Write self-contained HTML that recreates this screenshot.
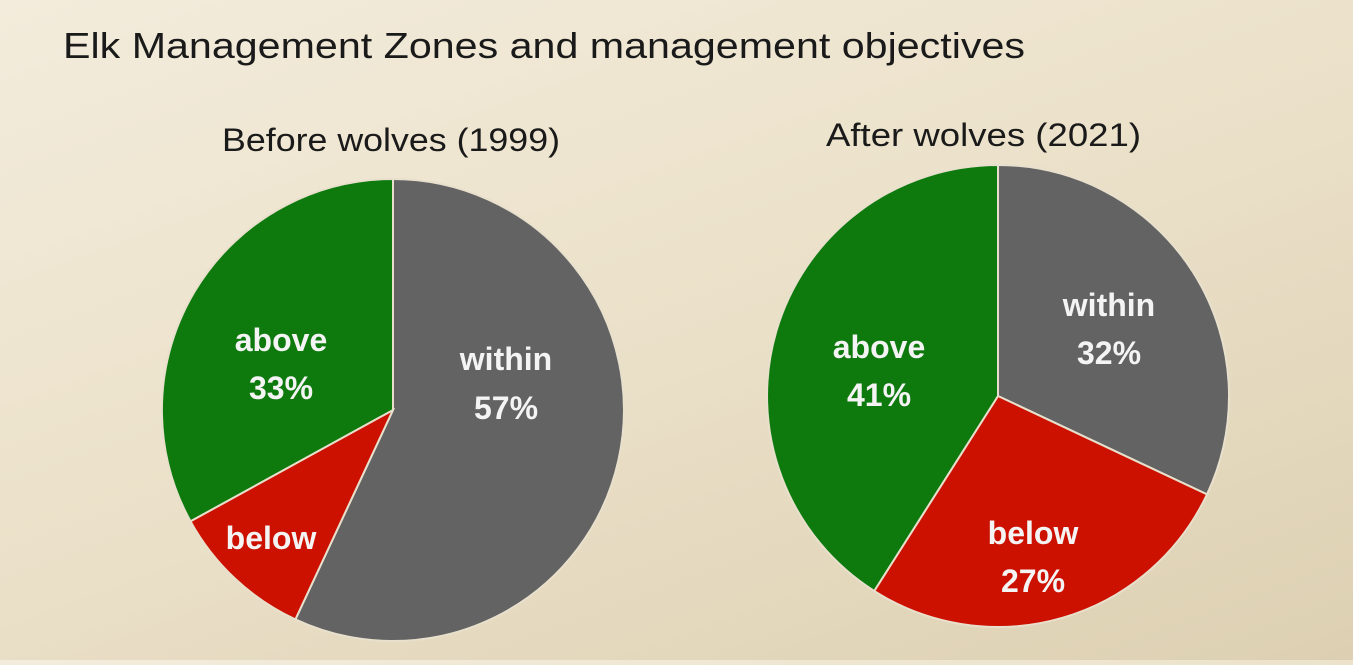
<!DOCTYPE html>
<html><head><meta charset="utf-8"><style>
html,body{margin:0;padding:0}
body{width:1353px;height:660px;overflow:hidden;background:linear-gradient(160deg,#f3ecdc 0%,#ece2cb 45%,#ddd0b2 100%);font-family:"Liberation Sans",sans-serif}
</style></head><body>
<svg width="1353" height="660" viewBox="0 0 1353 660" xmlns="http://www.w3.org/2000/svg" font-family="Liberation Sans, DejaVu Sans, sans-serif">
<text x="63" y="58" font-size="36" fill="#1a1a1a" textLength="962" lengthAdjust="spacingAndGlyphs">Elk Management Zones and management objectives</text>
<text x="222" y="151" font-size="32" fill="#1a1a1a" textLength="338" lengthAdjust="spacingAndGlyphs">Before wolves (1999)</text>
<text x="826" y="146" font-size="32" fill="#1a1a1a" textLength="315" lengthAdjust="spacingAndGlyphs">After wolves (2021)</text>
<g stroke="#e8e0cc" stroke-width="2">
<path d="M393,410 L393,179 A231,231 0 1 1 295.4,619.4 Z" fill="#636363"/>
<path d="M393,410 L295.4,619.4 A231,231 0 0 1 190.5,521.3 Z" fill="#cc1100"/>
<path d="M393,410 L190.5,521.3 A231,231 0 0 1 393,179 Z" fill="#0e7a0e"/>
<path d="M998,396 L998,165 A231,231 0 0 1 1207,494.4 Z" fill="#636363"/>
<path d="M998,396 L1207,494.4 A231,231 0 0 1 874.2,591 Z" fill="#cc1100"/>
<path d="M998,396 L874.2,591 A231,231 0 0 1 998,165 Z" fill="#0e7a0e"/>
</g>
<g font-size="32" font-weight="bold" fill="#f4f4f4" text-anchor="middle">
<text x="281" y="351">above</text><text x="281" y="399">33%</text>
<text x="506" y="370">within</text><text x="506" y="419">57%</text>
<text x="271" y="549">below</text>
<text x="879" y="358">above</text><text x="879" y="406">41%</text>
<text x="1109" y="316">within</text><text x="1109" y="364">32%</text>
<text x="1033" y="544">below</text><text x="1033" y="592">27%</text>
</g>
</svg>
</body></html>
